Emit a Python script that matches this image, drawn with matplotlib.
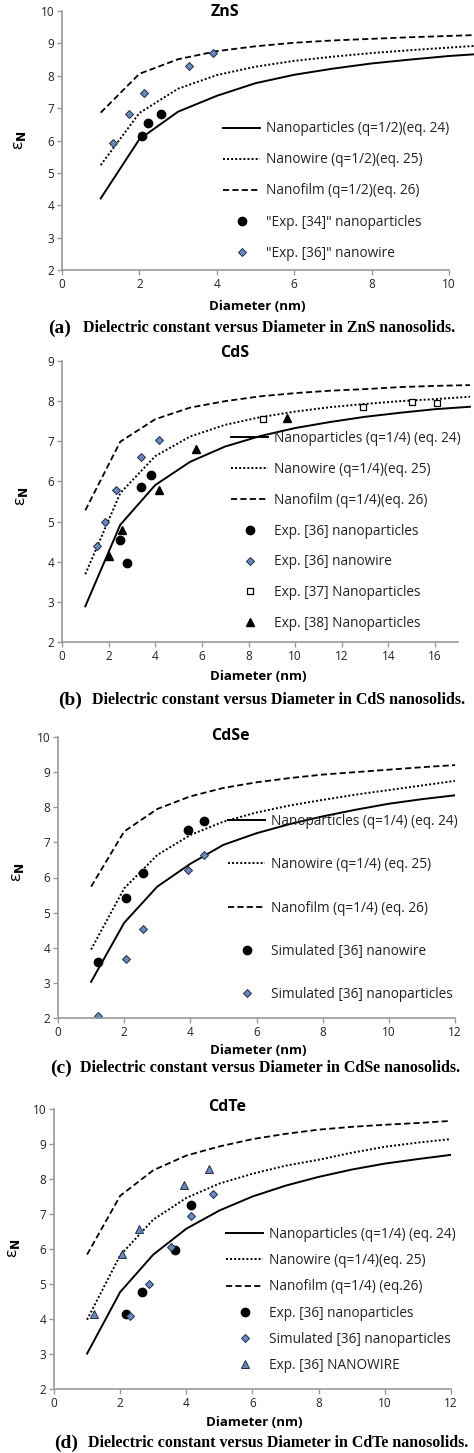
import matplotlib
matplotlib.use("Agg")
import matplotlib.pyplot as plt

W, H = 474, 1453
plt.rcParams['font.family'] = ['Open Sans', 'DejaVu Sans']

# ---- ZnS ----
zns_d = [1, 2, 3, 4, 5, 6, 7, 8, 9, 10, 11]
zns_np = [4.21, 6.04, 6.89, 7.38, 7.77, 8.03, 8.22, 8.38, 8.50, 8.61, 8.69]
zns_nw = [5.24, 6.85, 7.60, 8.02, 8.28, 8.46, 8.59, 8.70, 8.79, 8.87, 8.95]
zns_nf = [6.86, 8.06, 8.51, 8.76, 8.91, 9.02, 9.09, 9.14, 9.19, 9.23, 9.27]
zns_exp34_d = [2.07, 2.21, 2.55]
zns_exp34_e = [6.13, 6.54, 6.82]
zns_exp36_d = [1.32, 1.73, 2.12, 3.28, 3.90]
zns_exp36_e = [5.92, 6.82, 7.47, 8.30, 8.71]

# ---- CdS ----
cds_d = [1, 2.5, 4, 5.5, 7, 8.5, 10, 11.5, 13, 14.5, 16, 17.5]
cds_np = [2.89, 4.92, 5.91, 6.49, 6.87, 7.13, 7.33, 7.48, 7.61, 7.71, 7.80, 7.86]
cds_nw = [3.69, 5.71, 6.63, 7.12, 7.41, 7.60, 7.74, 7.85, 7.93, 8.00, 8.05, 8.11]
cds_nf = [5.28, 6.99, 7.55, 7.84, 8.00, 8.12, 8.20, 8.26, 8.30, 8.35, 8.38, 8.40]
cds_exp36np_d = [2.47, 2.77, 3.37, 3.83]
cds_exp36np_e = [4.55, 3.96, 5.87, 6.15]
cds_exp36nw_d = [1.50, 1.86, 2.30, 3.37, 4.14]
cds_exp36nw_e = [4.38, 5.00, 5.79, 6.61, 7.02]
cds_exp37_d = [8.61, 12.93, 15.00, 16.07]
cds_exp37_e = [7.55, 7.86, 7.97, 7.96]
cds_exp38_d = [2.03, 2.57, 4.16, 5.76, 9.64]
cds_exp38_e = [4.14, 4.80, 5.79, 6.80, 7.58]

# ---- CdSe ----
cdse_d = [1, 2, 3, 4, 5, 6, 7, 8, 9, 10, 11, 12]
cdse_np = [3.03, 4.71, 5.74, 6.39, 6.93, 7.26, 7.52, 7.74, 7.93, 8.10, 8.23, 8.34]
cdse_nw = [3.95, 5.69, 6.64, 7.21, 7.59, 7.85, 8.05, 8.21, 8.36, 8.49, 8.62, 8.75]
cdse_nf = [5.74, 7.31, 7.95, 8.31, 8.55, 8.71, 8.83, 8.93, 9.00, 9.07, 9.14, 9.20]
cdse_simnw_d = [1.21, 2.07, 2.58, 3.92, 4.42]
cdse_simnw_e = [3.60, 5.41, 6.14, 7.34, 7.61]
cdse_simnp_d = [1.22, 2.07, 2.58, 3.94, 4.42]
cdse_simnp_e = [2.05, 3.67, 4.53, 6.21, 6.63]

# ---- CdTe ----
cdte_d = [1, 2, 3, 4, 5, 6, 7, 8, 9, 10, 11, 12]
cdte_np = [3.01, 4.77, 5.84, 6.58, 7.10, 7.50, 7.81, 8.06, 8.27, 8.44, 8.57, 8.69]
cdte_nw = [3.98, 5.82, 6.84, 7.46, 7.87, 8.15, 8.38, 8.55, 8.75, 8.92, 9.04, 9.14]
cdte_nf = [5.84, 7.52, 8.25, 8.67, 8.93, 9.14, 9.29, 9.41, 9.49, 9.55, 9.60, 9.66]
cdte_exp36np_d = [2.17, 2.67, 3.66, 4.15]
cdte_exp36np_e = [4.13, 4.77, 5.98, 7.26]
cdte_simnp_d = [2.30, 2.86, 3.53, 4.14, 4.80]
cdte_simnp_e = [4.10, 5.00, 6.06, 6.95, 7.57]
cdte_exp36nw_d = [1.22, 2.07, 2.57, 3.92, 4.68]
cdte_exp36nw_e = [4.14, 5.86, 6.57, 7.84, 8.29]

BLUE = '#6a88b8'
BLUE_EDGE = '#1f2d4a'
GRAY = '#9a9a9a'

fig = plt.figure(figsize=(W / 100, H / 100), dpi=100)


def px(x, y):
    return x / W, 1 - y / H


def make_axes(left, right, ytop, ybot):
    x0, y0 = px(left, ybot)
    return fig.add_axes([x0, y0, (right - left) / W, (ybot - ytop) / H])


def style(ax, xmax, xend, xticks, ymin, ymax):
    ax.set_xlim(0, xmax)
    ax.set_ylim(ymin, ymax)
    ax.set_xticks(xticks)
    ax.set_yticks(range(ymin, ymax + 1))
    for s in ['top', 'right']:
        ax.spines[s].set_visible(False)
    for s in ['left', 'bottom']:
        ax.spines[s].set_color(GRAY)
        ax.spines[s].set_linewidth(1.2)
    ax.spines['bottom'].set_bounds(0, xend)
    ax.tick_params(direction='out', length=3.5, width=1, color=GRAY,
                   labelsize=8.5, labelcolor='#222222', pad=2)
    ax.patch.set_alpha(0)


def curves(ax, d, np_, nw, nf, labels):
    ax.plot(d, np_, color='black', lw=1.4, label=labels[0])
    ax.plot(d, nw, color='black', lw=1.4, linestyle=(0, (1, 1.1)), label=labels[1])
    ax.plot(d, nf, color='black', lw=1.3, linestyle=(0, (3.4, 1.8)), label=labels[2])


def legend(ax, xleft, ycenter, spacing):
    leg = ax.legend(loc='center left', bbox_to_anchor=px(xleft, ycenter),
                    bbox_transform=fig.transFigure, frameon=False, fontsize=9.8,
                    handlelength=2.75, handletextpad=0.4, borderpad=0,
                    borderaxespad=0, labelspacing=spacing)
    for t in leg.get_texts():
        t.set_color('#222222')


def ylabel(x, y):
    fig.text(*px(x, y), r'$\mathregular{\varepsilon}_\mathbf{N}$', rotation=90,
             ha='center', va='center', fontsize=12.5)


def captions(letter, text, xl, xt, y):
    fig.text(*px(xl, y), '(' + letter + ')', family='Liberation Serif',
             weight='bold', fontsize=14, ha='left', va='center')
    fig.text(*px(xt, y), text, family='Liberation Serif', weight='bold',
             fontsize=11.5, ha='left', va='center')


def title(text, x, y):
    fig.text(*px(x, y), text, weight='bold', fontsize=11.5, ha='center', va='center')


def xlabel(x, y):
    fig.text(*px(x, y), 'Diameter (nm)', weight='bold', fontsize=9.5,
             ha='center', va='center')


# (a) ZnS
ax = make_axes(62, 474, 11, 270)
style(ax, 10 * 412 / 387, 10, range(0, 11, 2), 2, 10)
curves(ax, zns_d, zns_np, zns_nw, zns_nf,
       ['Nanoparticles (q=1/2)(eq. 24)', 'Nanowire (q=1/2)(eq. 25)',
        'Nanofilm (q=1/2)(eq. 26)'])
ax.plot(zns_exp34_d, zns_exp34_e, 'o', color='black', ms=6,
        label='"Exp. [34]" nanoparticles')
ax.plot(zns_exp36_d, zns_exp36_e, 'D', mfc=BLUE, mec=BLUE_EDGE, mew=0.7, ms=4.5,
        label='"Exp. [36]" nanowire')
legend(ax, 223, 191, 1.18)
title('ZnS', 225, 12)
ylabel(20, 140)
xlabel(257, 307)
captions('a', 'Dielectric constant versus Diameter in ZnS nanosolids.', 48, 83, 328)

# (b) CdS
ax = make_axes(62, 474, 361, 642)
style(ax, 412 / (373 / 16), 17, range(0, 17, 2), 2, 9)
curves(ax, cds_d, cds_np, cds_nw, cds_nf,
       ['Nanoparticles (q=1/4) (eq. 24)', 'Nanowire (q=1/4)(eq. 25)',
        'Nanofilm (q=1/4)(eq. 26)'])
ax.plot(cds_exp36np_d, cds_exp36np_e, 'o', color='black', ms=6,
        label='Exp. [36] nanoparticles')
ax.plot(cds_exp36nw_d, cds_exp36nw_e, 'D', mfc=BLUE, mec=BLUE_EDGE, mew=0.7, ms=4.5,
        label='Exp. [36] nanowire')
ax.plot(cds_exp37_d, cds_exp37_e, 's', mfc='white', mec='black', mew=0.9, ms=5,
        label='Exp. [37] Nanoparticles')
ax.plot(cds_exp38_d, cds_exp38_e, '^', color='black', ms=5.5,
        label='Exp. [38] Nanoparticles')
legend(ax, 231, 531, 1.16)
title('CdS', 235, 353)
ylabel(22, 496)
xlabel(258, 676)
captions('b', 'Dielectric constant versus Diameter in CdS nanosolids.', 58, 92, 700)

# (c) CdSe
ax = make_axes(58, 455, 737, 1018)
style(ax, 12, 12, range(0, 13, 2), 2, 10)
curves(ax, cdse_d, cdse_np, cdse_nw, cdse_nf,
       ['Nanoparticles (q=1/4) (eq. 24)', 'Nanowire (q=1/4) (eq. 25)',
        'Nanofilm (q=1/4) (eq. 26)'])
ax.plot(cdse_simnw_d, cdse_simnw_e, 'o', color='black', ms=6,
        label='Simulated [36] nanowire')
ax.plot(cdse_simnp_d, cdse_simnp_e, 'D', mfc=BLUE, mec=BLUE_EDGE, mew=0.7, ms=4.5,
        label='Simulated [36] nanoparticles')
legend(ax, 228, 908, 2.08)
title('CdSe', 230, 736)
ylabel(18, 872)
xlabel(258, 1050)
captions('c', 'Dielectric constant versus Diameter in CdSe nanosolids.', 50, 80, 1068)

# (d) CdTe
ax = make_axes(54, 451, 1109, 1389)
style(ax, 12, 12, range(0, 13, 2), 2, 10)
curves(ax, cdte_d, cdte_np, cdte_nw, cdte_nf,
       ['Nanoparticles (q=1/4) (eq. 24)', 'Nanowire (q=1/4)(eq. 25)',
        'Nanofilm (q=1/4) (eq.26)'])
ax.plot(cdte_exp36np_d, cdte_exp36np_e, 'o', color='black', ms=6,
        label='Exp. [36] nanoparticles')
ax.plot(cdte_simnp_d, cdte_simnp_e, 'D', mfc=BLUE, mec=BLUE_EDGE, mew=0.7, ms=4.5,
        label='Simulated [36] nanoparticles')
ax.plot(cdte_exp36nw_d, cdte_exp36nw_e, '^', mfc=BLUE, mec=BLUE_EDGE, mew=0.7, ms=5.5,
        label='Exp. [36] NANOWIRE')
legend(ax, 226, 1300, 0.82)
title('CdTe', 227, 1107)
ylabel(14, 1248)
xlabel(254, 1423)
captions('d', 'Dielectric constant versus Diameter in CdTe nanosolids.', 54, 88, 1443)

fig.savefig('out.png', dpi=100)
